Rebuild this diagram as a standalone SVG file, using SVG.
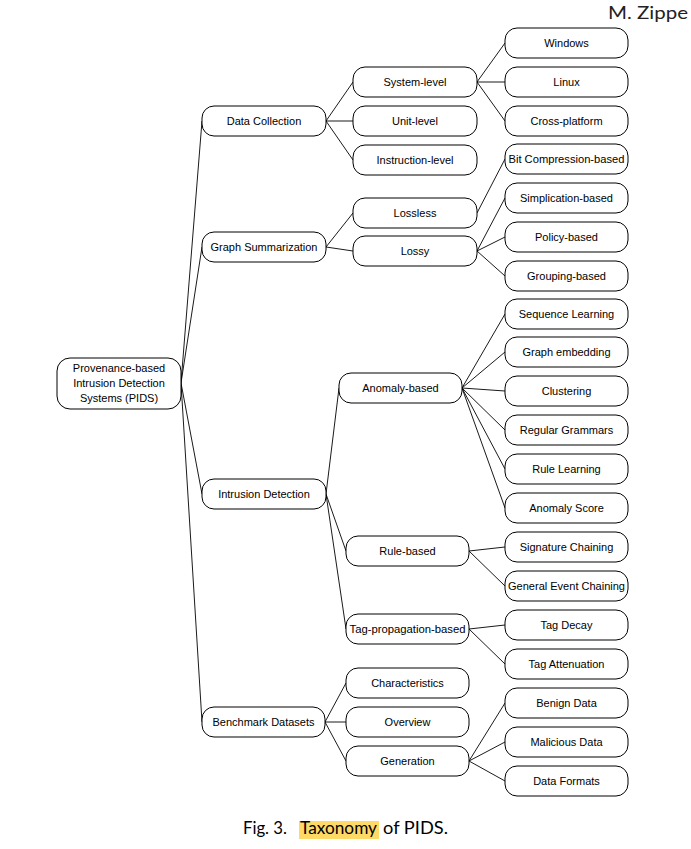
<svg xmlns="http://www.w3.org/2000/svg" width="691" height="849" viewBox="0 0 691 849">
<style>
.n rect{fill:#fff;stroke:#000;stroke-width:1}
.n text{font-family:"Liberation Sans",Arial,sans-serif;font-size:11px;fill:#000;text-anchor:middle;dominant-baseline:central}
#edges path{fill:none;stroke:#000;stroke-width:0.9}
.cap{font-family:Lato,"Open Sans",sans-serif;font-size:17px;fill:#000}
</style>
<rect width="691" height="849" fill="#fff"/>
<text x="608" y="19" font-family="Lato,'Open Sans',sans-serif" font-size="18" fill="#222" textLength="80" lengthAdjust="spacingAndGlyphs">M. Zippe</text>
<g id="edges">
<path d="M181,383L202,121M181,383L202,247M181,383L202,494M181,383L202,722"/>
<path d="M326,121L353,82M326,121L353,121M326,121L353,160"/>
<path d="M477,82L505,43M477,82L505,82M477,82L505,121"/>
<path d="M326,247L353,213M326,247L353,251"/>
<path d="M477,213L505,159M477,251L505,198M477,251L505,237M477,251L505,276"/>
<path d="M326,494L339,388M326,494L346,551M326,494L346,629"/>
<path d="M462,388L505,314M462,388L505,352M462,388L505,391M462,388L505,430M462,388L505,469M462,388L505,508"/>
<path d="M469,551L505,547M469,551L505,586M469,629L505,625M469,629L505,664"/>
<path d="M325,722L346,683M325,722L346,722M325,722L346,761"/>
<path d="M469,761L505,703M469,761L505,742M469,761L505,781"/>
</g>
<g id="root" class="n"><rect x="57" y="358" width="124" height="51" rx="13"/><text x="119" y="368">Provenance-based</text><text x="119" y="383">Intrusion Detection</text><text x="119" y="398">Systems (PIDS)</text></g>
<g id="data-collection" class="n"><rect x="202" y="106" width="124" height="30" rx="12"/><text x="264" y="121">Data Collection</text></g>
<g id="graph-summarization" class="n"><rect x="202" y="232" width="124" height="30" rx="12"/><text x="264" y="247">Graph Summarization</text></g>
<g id="intrusion-detection" class="n"><rect x="202" y="479" width="124" height="30" rx="12"/><text x="264" y="494">Intrusion Detection</text></g>
<g id="benchmark-datasets" class="n"><rect x="202" y="707" width="123" height="30" rx="12"/><text x="263.5" y="722">Benchmark Datasets</text></g>
<g id="system-level" class="n"><rect x="353" y="67" width="124" height="30" rx="12"/><text x="415" y="82">System-level</text></g>
<g id="unit-level" class="n"><rect x="353" y="106" width="124" height="30" rx="12"/><text x="415" y="121">Unit-level</text></g>
<g id="instruction-level" class="n"><rect x="353" y="145" width="124" height="30" rx="12"/><text x="415" y="160">Instruction-level</text></g>
<g id="lossless" class="n"><rect x="353" y="198" width="124" height="30" rx="12"/><text x="415" y="213">Lossless</text></g>
<g id="lossy" class="n"><rect x="353" y="236" width="124" height="30" rx="12"/><text x="415" y="251">Lossy</text></g>
<g id="anomaly-based" class="n"><rect x="339" y="373" width="123" height="30" rx="12"/><text x="400.5" y="388">Anomaly-based</text></g>
<g id="rule-based" class="n"><rect x="346" y="536" width="123" height="30" rx="12"/><text x="407.5" y="551">Rule-based</text></g>
<g id="tag-propagation-based" class="n"><rect x="346" y="614" width="123" height="30" rx="12"/><text x="407.5" y="629" textLength="116" lengthAdjust="spacingAndGlyphs">Tag-propagation-based</text></g>
<g id="characteristics" class="n"><rect x="346" y="668" width="123" height="30" rx="12"/><text x="407.5" y="683">Characteristics</text></g>
<g id="overview" class="n"><rect x="346" y="707" width="123" height="30" rx="12"/><text x="407.5" y="722">Overview</text></g>
<g id="generation" class="n"><rect x="346" y="746" width="123" height="30" rx="12"/><text x="407.5" y="761">Generation</text></g>
<g id="windows" class="n"><rect x="505" y="28" width="123" height="30" rx="12"/><text x="566.5" y="43">Windows</text></g>
<g id="linux" class="n"><rect x="505" y="67" width="123" height="30" rx="12"/><text x="566.5" y="82">Linux</text></g>
<g id="cross-platform" class="n"><rect x="505" y="106" width="123" height="30" rx="12"/><text x="566.5" y="121">Cross-platform</text></g>
<g id="bit-compression" class="n"><rect x="505" y="144" width="123" height="30" rx="12"/><text x="566.5" y="159" textLength="116" lengthAdjust="spacingAndGlyphs">Bit Compression-based</text></g>
<g id="simplication" class="n"><rect x="505" y="183" width="123" height="30" rx="12"/><text x="566.5" y="198">Simplication-based</text></g>
<g id="policy" class="n"><rect x="505" y="222" width="123" height="30" rx="12"/><text x="566.5" y="237">Policy-based</text></g>
<g id="grouping" class="n"><rect x="505" y="261" width="123" height="30" rx="12"/><text x="566.5" y="276">Grouping-based</text></g>
<g id="sequence-learning" class="n"><rect x="505" y="299" width="123" height="30" rx="12"/><text x="566.5" y="314">Sequence Learning</text></g>
<g id="graph-embedding" class="n"><rect x="505" y="337" width="123" height="30" rx="12"/><text x="566.5" y="352">Graph embedding</text></g>
<g id="clustering" class="n"><rect x="505" y="376" width="123" height="30" rx="12"/><text x="566.5" y="391">Clustering</text></g>
<g id="regular-grammars" class="n"><rect x="505" y="415" width="123" height="30" rx="12"/><text x="566.5" y="430">Regular Grammars</text></g>
<g id="rule-learning" class="n"><rect x="505" y="454" width="123" height="30" rx="12"/><text x="566.5" y="469">Rule Learning</text></g>
<g id="anomaly-score" class="n"><rect x="505" y="493" width="123" height="30" rx="12"/><text x="566.5" y="508">Anomaly Score</text></g>
<g id="signature-chaining" class="n"><rect x="505" y="532" width="123" height="30" rx="12"/><text x="566.5" y="547">Signature Chaining</text></g>
<g id="general-event-chaining" class="n"><rect x="505" y="571" width="123" height="30" rx="12"/><text x="566.5" y="586" textLength="117" lengthAdjust="spacingAndGlyphs">General Event Chaining</text></g>
<g id="tag-decay" class="n"><rect x="505" y="610" width="123" height="30" rx="12"/><text x="566.5" y="625">Tag Decay</text></g>
<g id="tag-attenuation" class="n"><rect x="505" y="649" width="123" height="30" rx="12"/><text x="566.5" y="664">Tag Attenuation</text></g>
<g id="benign-data" class="n"><rect x="505" y="688" width="123" height="30" rx="12"/><text x="566.5" y="703">Benign Data</text></g>
<g id="malicious-data" class="n"><rect x="505" y="727" width="123" height="30" rx="12"/><text x="566.5" y="742">Malicious Data</text></g>
<g id="data-formats" class="n"><rect x="505" y="766" width="123" height="30" rx="12"/><text x="566.5" y="781">Data Formats</text></g>
<rect x="299" y="821" width="80" height="18" fill="#FFD966"/>
<text class="cap" x="243" y="834" textLength="44" lengthAdjust="spacingAndGlyphs">Fig. 3.</text>
<text class="cap" x="300" y="834" textLength="77" lengthAdjust="spacingAndGlyphs">Taxonomy</text>
<text class="cap" x="383" y="834" textLength="65" lengthAdjust="spacingAndGlyphs">of PIDS.</text>
</svg>
